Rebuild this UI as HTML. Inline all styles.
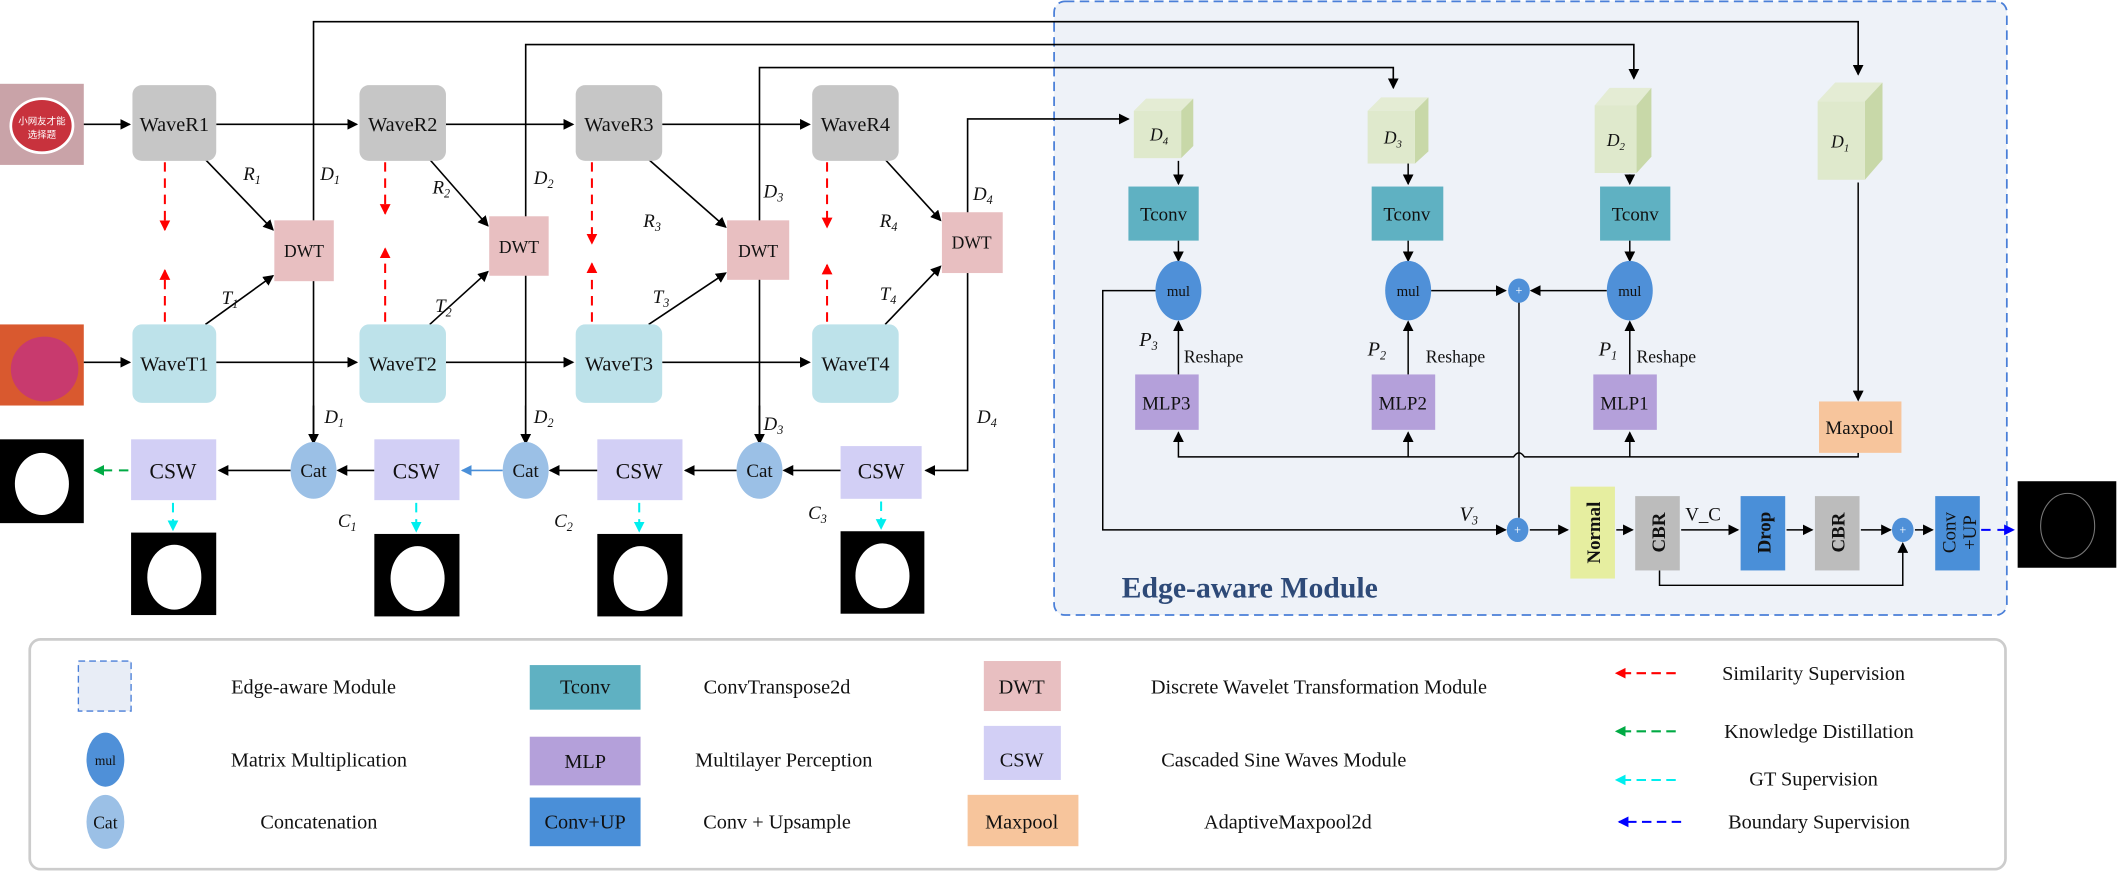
<!DOCTYPE html>
<html><head><meta charset="utf-8"><style>
html,body{margin:0;padding:0;background:#fff;}
svg{display:block;}
text{font-family:"Liberation Serif",serif;fill:#111;}
.i{font-style:italic;}
</style></head><body>
<svg width="2119" height="880" viewBox="0 0 1568 651" preserveAspectRatio="none" xmlns="http://www.w3.org/2000/svg">
<defs>
<marker id="a" markerWidth="8" markerHeight="8" refX="7" refY="4" orient="auto" markerUnits="userSpaceOnUse"><path d="M0,0 L8,4 L0,8 z" fill="#000"/></marker>
<marker id="ar" markerWidth="8" markerHeight="8" refX="7" refY="4" orient="auto" markerUnits="userSpaceOnUse"><path d="M0,0 L8,4 L0,8 z" fill="#f00"/></marker>
<marker id="ac" markerWidth="8" markerHeight="8" refX="7" refY="4" orient="auto" markerUnits="userSpaceOnUse"><path d="M0,0 L8,4 L0,8 z" fill="#0ee"/></marker>
<marker id="ag" markerWidth="8" markerHeight="8" refX="7" refY="4" orient="auto" markerUnits="userSpaceOnUse"><path d="M0,0 L8,4 L0,8 z" fill="#0a4"/></marker>
<marker id="ab" markerWidth="8" markerHeight="8" refX="7" refY="4" orient="auto" markerUnits="userSpaceOnUse"><path d="M0,0 L8,4 L0,8 z" fill="#00f"/></marker>
<marker id="al" markerWidth="8" markerHeight="8" refX="7" refY="4" orient="auto" markerUnits="userSpaceOnUse"><path d="M0,0 L8,4 L0,8 z" fill="#4a8fd8"/></marker>
</defs>

<!-- Edge module box -->
<rect x="780" y="1" width="705" height="454" rx="8" fill="#eef2f8" stroke="#4a7fd8" stroke-width="1.3" stroke-dasharray="7,4"/>

<!-- input images -->
<rect x="0" y="62" width="62" height="60" fill="#c9a3a8"/>
<ellipse cx="31" cy="93" rx="23" ry="20" fill="#c8323d" stroke="#fff" stroke-width="2"/>
<text x="31" y="92" font-size="7" text-anchor="middle" style="fill:#fff;font-family:'Noto Sans CJK SC',sans-serif">小网友才能</text>
<text x="31" y="102" font-size="7" text-anchor="middle" style="fill:#fff;font-family:'Noto Sans CJK SC',sans-serif">选择题</text>
<rect x="0" y="240" width="62" height="60" fill="#d9592f"/>
<ellipse cx="33" cy="273" rx="25" ry="24" fill="#c83a6e"/>

<!-- top long lines -->
<g fill="none" stroke="#000" stroke-width="1.2">
<path d="M232,330 V16 H1375 V55" marker-end="url(#a)"/>
<path d="M389,330 V33 H1209 V58" marker-end="url(#a)"/>
<path d="M562,330 V50 H1031 V65" marker-end="url(#a)"/>
<path d="M716,158 V88 H835" marker-end="url(#a)"/>
<path d="M716,202 V348 H685" marker-end="url(#a)"/>
<!-- horizontal rows -->
<path d="M62,92 H96" marker-end="url(#a)"/>
<path d="M160,92 H264" marker-end="url(#a)"/>
<path d="M330,92 H424" marker-end="url(#a)"/>
<path d="M490,92 H599" marker-end="url(#a)"/>
<path d="M62,268 H96" marker-end="url(#a)"/>
<path d="M160,268 H264" marker-end="url(#a)"/>
<path d="M330,268 H424" marker-end="url(#a)"/>
<path d="M490,268 H599" marker-end="url(#a)"/>
<!-- diagonals -->
<path d="M152,118 L202,170" marker-end="url(#a)"/>
<path d="M152,240 L202,204" marker-end="url(#a)"/>
<path d="M318,118 L361,167" marker-end="url(#a)"/>
<path d="M318,240 L361,201" marker-end="url(#a)"/>
<path d="M480,118 L537,168" marker-end="url(#a)"/>
<path d="M480,240 L537,202" marker-end="url(#a)"/>
<path d="M655,118 L696,163" marker-end="url(#a)"/>
<path d="M655,240 L696,197" marker-end="url(#a)"/>
<!-- bottom row -->
<path d="M622,348 H580" marker-end="url(#a)"/>
<path d="M545,348 H507" marker-end="url(#a)"/>
<path d="M442,348 H407" marker-end="url(#a)"/>
<path d="M372,348 H342" stroke="#4a8fd8" marker-end="url(#al)"/>
<path d="M277,348 H250" marker-end="url(#a)"/>
<path d="M215,348 H162" marker-end="url(#a)"/>
</g>
<!-- verticals to cat -->
<g stroke="#000" stroke-width="1.2" marker-end="url(#a)">
<line x1="232" y1="300" x2="232" y2="328"/>
<line x1="389" y1="300" x2="389" y2="328"/>
<line x1="562" y1="300" x2="562" y2="328"/>
</g>

<!-- wave nodes -->
<g font-size="15" text-anchor="middle">
<rect x="98" y="63" width="62" height="56" rx="7" fill="#c6c6c6"/><text x="129" y="97">WaveR1</text>
<rect x="266" y="63" width="64" height="56" rx="7" fill="#c6c6c6"/><text x="298" y="97">WaveR2</text>
<rect x="426" y="63" width="64" height="56" rx="7" fill="#c6c6c6"/><text x="458" y="97">WaveR3</text>
<rect x="601" y="63" width="64" height="56" rx="7" fill="#c6c6c6"/><text x="633" y="97">WaveR4</text>
<rect x="98" y="240" width="62" height="58" rx="7" fill="#bde2ea"/><text x="129" y="274">WaveT1</text>
<rect x="266" y="240" width="64" height="58" rx="7" fill="#bde2ea"/><text x="298" y="274">WaveT2</text>
<rect x="426" y="240" width="64" height="58" rx="7" fill="#bde2ea"/><text x="458" y="274">WaveT3</text>
<rect x="601" y="240" width="64" height="58" rx="7" fill="#bde2ea"/><text x="633" y="274">WaveT4</text>
</g>
<g font-size="13" text-anchor="middle">
<rect x="203" y="163" width="44" height="45" fill="#e8bfc1"/><text x="225" y="190">DWT</text>
<rect x="362" y="160" width="44" height="44" fill="#e8bfc1"/><text x="384" y="187">DWT</text>
<rect x="538" y="163" width="46" height="44" fill="#e8bfc1"/><text x="561" y="190">DWT</text>
<rect x="697" y="157" width="45" height="45" fill="#e8bfc1"/><text x="719" y="184">DWT</text>
</g>
<!-- cat & csw -->
<g font-size="14" text-anchor="middle">
<ellipse cx="232" cy="348" rx="17" ry="21" fill="#9bc0e6"/><text x="232" y="353">Cat</text>
<ellipse cx="389" cy="348" rx="17" ry="21" fill="#9bc0e6"/><text x="389" y="353">Cat</text>
<ellipse cx="562" cy="348" rx="17" ry="21" fill="#9bc0e6"/><text x="562" y="353">Cat</text>
</g>
<g font-size="16" text-anchor="middle">
<rect x="97" y="325" width="63" height="45" fill="#d2cff5"/><text x="128" y="354">CSW</text>
<rect x="277" y="325" width="63" height="45" fill="#d2cff5"/><text x="308" y="354">CSW</text>
<rect x="442" y="325" width="63" height="45" fill="#d2cff5"/><text x="473" y="354">CSW</text>
<rect x="622" y="330" width="60" height="39" fill="#d2cff5"/><text x="652" y="354">CSW</text>
</g>
<!-- masks -->
<g fill="#000">
<rect x="0" y="325" width="62" height="62"/>
<rect x="97" y="394" width="63" height="61"/>
<rect x="277" y="395" width="63" height="61"/>
<rect x="442" y="395" width="63" height="61"/>
<rect x="622" y="393" width="62" height="61"/>
</g>
<g fill="#fff">
<ellipse cx="31" cy="358" rx="20" ry="23"/>
<ellipse cx="129" cy="427" rx="20" ry="24"/>
<ellipse cx="309" cy="428" rx="20" ry="24"/>
<ellipse cx="474" cy="428" rx="20" ry="24"/>
<ellipse cx="653" cy="426" rx="20" ry="24"/>
</g>
<!-- supervision arrows -->
<g stroke-width="1.5" stroke-dasharray="7,5">
<line x1="122" y1="120" x2="122" y2="170" stroke="#f00" marker-end="url(#ar)"/>
<line x1="122" y1="238" x2="122" y2="200" stroke="#f00" marker-end="url(#ar)"/>
<line x1="285" y1="120" x2="285" y2="158" stroke="#f00" marker-end="url(#ar)"/>
<line x1="285" y1="238" x2="285" y2="184" stroke="#f00" marker-end="url(#ar)"/>
<line x1="438" y1="120" x2="438" y2="180" stroke="#f00" marker-end="url(#ar)"/>
<line x1="438" y1="238" x2="438" y2="195" stroke="#f00" marker-end="url(#ar)"/>
<line x1="612" y1="120" x2="612" y2="168" stroke="#f00" marker-end="url(#ar)"/>
<line x1="612" y1="238" x2="612" y2="196" stroke="#f00" marker-end="url(#ar)"/>
<line x1="95" y1="348" x2="70" y2="348" stroke="#0a4" marker-end="url(#ag)"/>
<line x1="128" y1="372" x2="128" y2="392" stroke="#0ee" marker-end="url(#ac)"/>
<line x1="308" y1="372" x2="308" y2="393" stroke="#0ee" marker-end="url(#ac)"/>
<line x1="473" y1="372" x2="473" y2="393" stroke="#0ee" marker-end="url(#ac)"/>
<line x1="652" y1="371" x2="652" y2="391" stroke="#0ee" marker-end="url(#ac)"/>
<line x1="1466" y1="392" x2="1490" y2="392" stroke="#00f" marker-end="url(#ab)"/>
</g>
<!-- labels -->
<g font-size="14" class="i">
<text x="180" y="133" class="i">R<tspan font-size="9" dy="3">1</tspan></text>
<text x="237" y="133" class="i">D<tspan font-size="9" dy="3">1</tspan></text>
<text x="164" y="225" class="i">T<tspan font-size="9" dy="3">1</tspan></text>
<text x="320" y="143" class="i">R<tspan font-size="9" dy="3">2</tspan></text>
<text x="395" y="136" class="i">D<tspan font-size="9" dy="3">2</tspan></text>
<text x="322" y="231" class="i">T<tspan font-size="9" dy="3">2</tspan></text>
<text x="476" y="168" class="i">R<tspan font-size="9" dy="3">3</tspan></text>
<text x="565" y="146" class="i">D<tspan font-size="9" dy="3">3</tspan></text>
<text x="483" y="224" class="i">T<tspan font-size="9" dy="3">3</tspan></text>
<text x="651" y="168" class="i">R<tspan font-size="9" dy="3">4</tspan></text>
<text x="720" y="148" class="i">D<tspan font-size="9" dy="3">4</tspan></text>
<text x="651" y="222" class="i">T<tspan font-size="9" dy="3">4</tspan></text>
<text x="240" y="313" class="i">D<tspan font-size="9" dy="3">1</tspan></text>
<text x="395" y="313" class="i">D<tspan font-size="9" dy="3">2</tspan></text>
<text x="565" y="318" class="i">D<tspan font-size="9" dy="3">3</tspan></text>
<text x="723" y="313" class="i">D<tspan font-size="9" dy="3">4</tspan></text>
<text x="250" y="390" class="i">C<tspan font-size="9" dy="3">1</tspan></text>
<text x="410" y="390" class="i">C<tspan font-size="9" dy="3">2</tspan></text>
<text x="598" y="384" class="i">C<tspan font-size="9" dy="3">3</tspan></text>
</g>

<!-- Edge module contents -->
<g>
<!-- cubes -->
<polygon points="839,82 848,73 883,73 874,82" fill="#e4ecd4"/><polygon points="874,82 883,73 883,108 874,117" fill="#c8d8a8"/><rect x="839" y="82" width="35" height="35" fill="#dfe9cc"/>
<polygon points="1012,82 1022,72 1057,72 1047,82" fill="#e4ecd4"/><polygon points="1047,82 1057,72 1057,112 1047,121" fill="#c8d8a8"/><rect x="1012" y="82" width="35" height="39" fill="#dfe9cc"/>
<polygon points="1180,78 1191,65 1222,65 1211,78" fill="#e4ecd4"/><polygon points="1211,78 1222,65 1222,116 1211,128" fill="#c8d8a8"/><rect x="1180" y="78" width="31" height="50" fill="#dfe9cc"/>
<polygon points="1345,75 1358,61 1393,61 1380,75" fill="#e4ecd4"/><polygon points="1380,75 1393,61 1393,118 1380,133" fill="#c8d8a8"/><rect x="1345" y="75" width="35" height="58" fill="#dfe9cc"/>
<g font-size="13" class="i">
<text x="851" y="104">D<tspan font-size="8" dy="3">4</tspan></text>
<text x="1024" y="106">D<tspan font-size="8" dy="3">3</tspan></text>
<text x="1189" y="108">D<tspan font-size="8" dy="3">2</tspan></text>
<text x="1355" y="109">D<tspan font-size="8" dy="3">1</tspan></text>
</g>
<g fill="none" stroke="#000" stroke-width="1.1">
<path d="M872,119 V136" marker-end="url(#a)"/>
<path d="M1042,121 V136" marker-end="url(#a)"/>
<path d="M1206,129 V136" marker-end="url(#a)"/>
<path d="M872,178 V193" marker-end="url(#a)"/>
<path d="M1042,178 V193" marker-end="url(#a)"/>
<path d="M1206,178 V193" marker-end="url(#a)"/>
<path d="M872,277 V238" marker-end="url(#a)"/>
<path d="M1042,277 V238" marker-end="url(#a)"/>
<path d="M1206,277 V238" marker-end="url(#a)"/>
<path d="M1059,215 H1114" marker-end="url(#a)"/>
<path d="M1189,215 H1133" marker-end="url(#a)"/>
<path d="M1375,135 V296" marker-end="url(#a)"/>
<path d="M1375,335 V338 H1128 Q1124,332 1120,338 H872 V320" marker-end="url(#a)"/>
<path d="M1042,338 V320" marker-end="url(#a)"/>
<path d="M1206,338 V320" marker-end="url(#a)"/>
<path d="M1124,223 V383"/>
<path d="M856,215 H816 V392 H1114" marker-end="url(#a)"/>
<path d="M1132,392 H1160" marker-end="url(#a)"/>
<path d="M1196,392 H1208" marker-end="url(#a)"/>
<path d="M1244,392 H1286" marker-end="url(#a)"/>
<path d="M1322,392 H1341" marker-end="url(#a)"/>
<path d="M1377,392 H1399" marker-end="url(#a)"/>
<path d="M1417,392 H1430" marker-end="url(#a)"/>
<path d="M1228,422 V433 H1408 V402" marker-end="url(#a)"/>
</g>
<g font-size="14" text-anchor="middle">
<rect x="835" y="138" width="52" height="40" fill="#5fb1c2"/><text x="861" y="163">Tconv</text>
<rect x="1015" y="138" width="53" height="40" fill="#5fb1c2"/><text x="1041" y="163">Tconv</text>
<rect x="1184" y="138" width="52" height="40" fill="#5fb1c2"/><text x="1210" y="163">Tconv</text>
<rect x="840" y="277" width="47" height="41" fill="#b4a0da"/><text x="863" y="303">MLP3</text>
<rect x="1015" y="277" width="47" height="41" fill="#b4a0da"/><text x="1038" y="303">MLP2</text>
<rect x="1179" y="277" width="47" height="41" fill="#b4a0da"/><text x="1202" y="303">MLP1</text>
<rect x="1346" y="297" width="61" height="38" fill="#f7c59c"/><text x="1376" y="321">Maxpool</text>
</g>
<g font-size="11" text-anchor="middle">
<ellipse cx="872" cy="215" rx="17" ry="22" fill="#4f90d8"/><text x="872" y="219">mul</text>
<ellipse cx="1042" cy="215" rx="17" ry="22" fill="#4f90d8"/><text x="1042" y="219">mul</text>
<ellipse cx="1206" cy="215" rx="17" ry="22" fill="#4f90d8"/><text x="1206" y="219">mul</text>
</g>
<g fill="#4f90d8"><ellipse cx="1124" cy="215" rx="8" ry="9"/><ellipse cx="1123" cy="392" rx="8" ry="9"/><ellipse cx="1408" cy="392" rx="8" ry="9"/></g>
<g font-size="9" text-anchor="middle" style="fill:#fff"><text x="1124" y="218" style="fill:#fff">+</text><text x="1123" y="395" style="fill:#fff">+</text><text x="1408" y="395" style="fill:#fff">+</text></g>
<g font-size="13">
<text x="876" y="268">Reshape</text><text x="1055" y="268">Reshape</text><text x="1211" y="268">Reshape</text>
</g>
<g font-size="15" class="i">
<text x="843" y="256">P<tspan font-size="9" dy="3">3</tspan></text>
<text x="1012" y="263">P<tspan font-size="9" dy="3">2</tspan></text>
<text x="1183" y="263">P<tspan font-size="9" dy="3">1</tspan></text>
<text x="1080" y="385">V<tspan font-size="9" dy="3">3</tspan></text>
</g>
<text x="1247" y="385" font-size="14">V_C</text>
<rect x="1162" y="360" width="33" height="68" fill="#e6eea0"/>
<rect x="1210" y="367" width="33" height="55" fill="#bcbcbc"/>
<rect x="1288" y="367" width="33" height="55" fill="#4a8fd8"/>
<rect x="1343" y="367" width="33" height="55" fill="#bcbcbc"/>
<rect x="1432" y="367" width="33" height="55" fill="#4a8fd8"/>
<g font-size="14" font-weight="bold">
<text transform="translate(1184,394) rotate(-90)" text-anchor="middle">Normal</text>
<text transform="translate(1232,394) rotate(-90)" text-anchor="middle">CBR</text>
<text transform="translate(1310,394) rotate(-90)" text-anchor="middle">Drop</text>
<text transform="translate(1365,394) rotate(-90)" text-anchor="middle">CBR</text>
<text transform="translate(1447,394) rotate(-90)" text-anchor="middle" font-weight="normal">Conv</text>
<text transform="translate(1462,394) rotate(-90)" text-anchor="middle" font-weight="normal">+UP</text>
</g>
<rect x="1493" y="356" width="73" height="64" fill="#000"/>
<ellipse cx="1530" cy="389" rx="20" ry="24" fill="none" stroke="#777" stroke-width="0.8"/>
<text x="830" y="442" font-size="22" font-weight="bold" style="fill:#2e4a78">Edge-aware Module</text>
</g>

<!-- Legend -->
<rect x="22" y="473" width="1462" height="170" rx="8" fill="#fff" stroke="#ccc" stroke-width="2"/>
<rect x="58" y="489" width="39" height="37" fill="#e8edf6" stroke="#4a7fd8" stroke-dasharray="5,3"/>
<ellipse cx="78" cy="562" rx="14" ry="20" fill="#4f90d8"/><text x="78" y="566" font-size="10" text-anchor="middle">mul</text>
<ellipse cx="78" cy="608" rx="14" ry="20" fill="#9bc0e6"/><text x="78" y="613" font-size="13" text-anchor="middle">Cat</text>
<rect x="392" y="492" width="82" height="33" fill="#5fb1c2"/>
<rect x="392" y="545" width="82" height="36" fill="#b4a0da"/>
<rect x="392" y="590" width="82" height="36" fill="#4a8fd8"/>
<rect x="728" y="489" width="57" height="37" fill="#e8bfc1"/>
<rect x="728" y="537" width="57" height="40" fill="#d2cff5"/>
<rect x="716" y="588" width="82" height="38" fill="#f7c59c"/>
<g font-size="15" text-anchor="middle">
<text x="232" y="513">Edge-aware Module</text>
<text x="236" y="567">Matrix Multiplication</text>
<text x="236" y="613">Concatenation</text>
<text x="433" y="513">Tconv</text><text x="575" y="513">ConvTranspose2d</text>
<text x="433" y="568">MLP</text><text x="580" y="567">Multilayer Perception</text>
<text x="433" y="613">Conv+UP</text><text x="575" y="613">Conv + Upsample</text>
<text x="756" y="513">DWT</text><text x="976" y="513">Discrete Wavelet Transformation Module</text>
<text x="756" y="567">CSW</text><text x="950" y="567">Cascaded Sine Waves Module</text>
<text x="756" y="613">Maxpool</text><text x="953" y="613">AdaptiveMaxpool2d</text>
<text x="1342" y="503">Similarity Supervision</text>
<text x="1346" y="546">Knowledge Distillation</text>
<text x="1342" y="581">GT  Supervision</text>
<text x="1346" y="613">Boundary  Supervision</text>
</g>
<g stroke-width="1.5" stroke-dasharray="7,4">
<line x1="1240" y1="498" x2="1196" y2="498" stroke="#f00" marker-end="url(#ar)"/>
<line x1="1240" y1="541" x2="1196" y2="541" stroke="#0a4" marker-end="url(#ag)"/>
<line x1="1240" y1="577" x2="1196" y2="577" stroke="#0ee" marker-end="url(#ac)"/>
<line x1="1244" y1="608" x2="1198" y2="608" stroke="#00f" marker-end="url(#ab)"/>
</g>
</svg>
</body></html>
